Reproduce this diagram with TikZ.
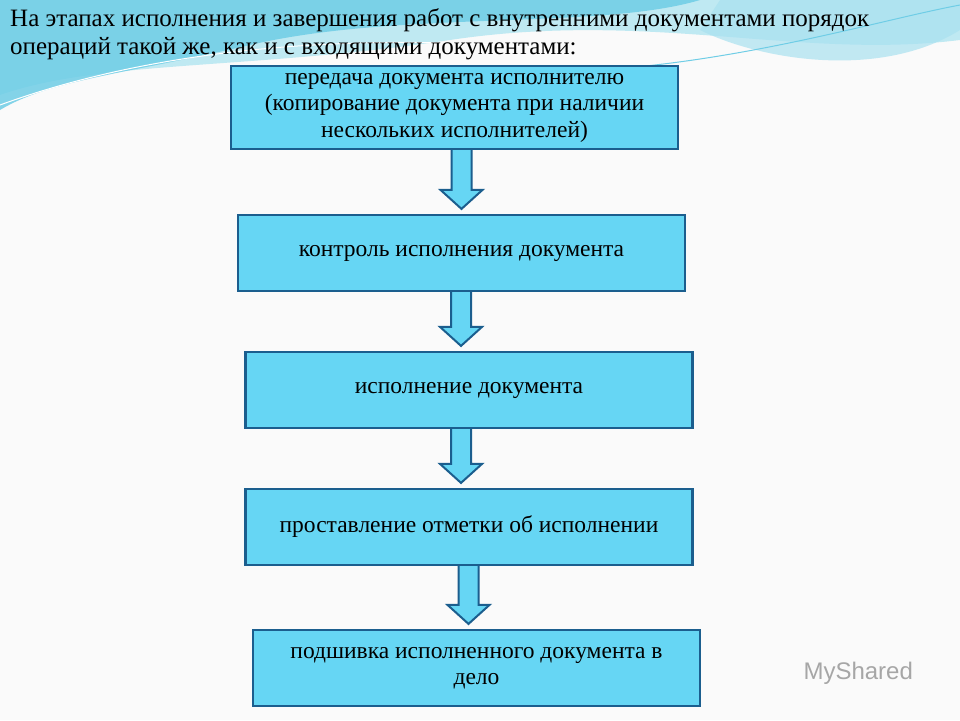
\documentclass[tikz,border=0pt]{standalone}
\usepackage{fontspec}
\setmainfont{Liberation Serif}
\newfontfamily\wmfont{Liberation Sans}
\usetikzlibrary{calc}
\definecolor{boxfill}{HTML}{66D6F4}
\definecolor{boxline}{HTML}{1B5E8E}
\definecolor{wave1}{HTML}{BFE9F2}
\definecolor{wave2}{HTML}{6FCDE6}
\tikzset{
  stepbox/.style={draw=boxline,line width=2.2pt,fill=boxfill,minimum width=447pt,minimum height=76pt,align=center,font=\fontsize{23.5pt}{26.5pt}\selectfont,inner sep=1pt},
  blockarr/.style={draw=boxline,line width=2pt,fill=boxfill,line join=miter}
}
\newcommand{\blkarrow}[3]{% from, to, xshift
  \draw[blockarr] ($(#2.north|-#1.south)+(#3-10,0)$) -- ($(#2.north)+(#3-10,-24)$) -- ($(#2.north)+(#3-21,-24)$) -- ($(#2.north)+(#3,-5)$) -- ($(#2.north)+(#3+21,-24)$) -- ($(#2.north)+(#3+10,-24)$) -- ($(#2.north|-#1.south)+(#3+10,0)$);}
\begin{document}
\begin{tikzpicture}[x=1pt,y=-1pt]
\useasboundingbox (0,0) rectangle (960,720);
\fill[white!96!gray] (0,0) rectangle (960,720);
% top waves
\fill[wave1] (0,0) -- (960,0) -- (960,40) .. controls (800,60) and (650,10) .. (450,40) .. controls (250,70) and (100,60) .. (0,95) -- cycle;
\fill[wave2,opacity=0.85] (0,0) -- (700,0) .. controls (600,30) and (400,10) .. (250,45) .. controls (120,75) and (50,80) .. (0,110) -- cycle;
\fill[wave2!60!white,opacity=0.7] (720,0) -- (960,0) -- (960,30) .. controls (880,80) and (760,60) .. (700,30) -- cycle;
\draw[white,line width=1pt] (0,105) .. controls (150,50) and (350,30) .. (560,50);
\draw[wave2,line width=1pt] (600,70) .. controls (750,60) and (880,20) .. (960,5);
% title
\node[anchor=north west,align=left,inner sep=0pt,font=\fontsize{25pt}{28pt}\selectfont] (title) at (10,8) {На этапах исполнения и завершения работ с внутренними документами порядок\\операций такой же, как и с входящими документами:};
% boxes
\node[stepbox,minimum height=83pt] (b1) at (454.5,107.5) {передача документа исполнителю\\(копирование документа при наличии\\нескольких исполнителей)};
\node[stepbox] (b2) at (461.5,253) {контроль исполнения документа};
\node[stepbox] (b3) at (469,390) {исполнение документа};
\node[stepbox] (b4) at (469,527) {проставление отметки об исполнении};
\node[stepbox] (b5) at (476.5,668) {подшивка исполненного документа в\\дело};
\blkarrow{b1}{b2}{0}
\blkarrow{b2}{b3}{-8}
\blkarrow{b3}{b4}{-8}
\blkarrow{b4}{b5}{-8}
\node[font=\wmfont\fontsize{24pt}{24pt}\selectfont,text=gray!70,anchor=west] (wm) at (800,673) {MyShared};
\end{tikzpicture}
\end{document}
